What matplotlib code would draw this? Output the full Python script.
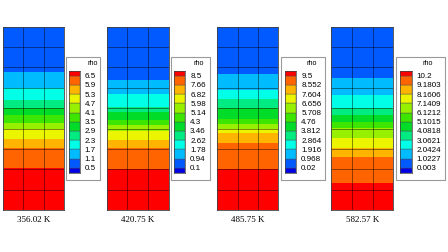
import matplotlib
matplotlib.use('Agg')
import matplotlib.pyplot as plt
from matplotlib.patches import Rectangle

W, H = 448, 252

# rho contour levels of each legend, bottom to top
levels_356 = [0.5, 1.1, 1.7, 2.3, 2.9, 3.5, 4.1, 4.7, 5.3, 5.9, 6.5]
levels_420 = [0.1, 0.94, 1.78, 2.62, 3.46, 4.3, 5.14, 5.98, 6.82, 7.66, 8.5]
levels_485 = [0.02, 0.968, 1.916, 2.864, 3.812, 4.76, 5.708, 6.656, 7.604, 8.552, 9.5]
levels_582 = [0.003, 1.0227, 2.0424, 3.0621, 4.0818, 5.1015, 6.1212, 7.1409, 8.1606, 9.1803, 10.2]

# height (cells from the bottom of the 9-cell column) where rho crosses
# the 2nd ... 11th level; rho grows towards the bottom
cross_356 = [6.79, 5.97, 5.40, 5.02, 4.66, 4.27, 3.98, 3.50, 3.06, 2.05]
cross_420 = [6.38, 5.68, 5.07, 4.80, 4.42, 4.17, 3.88, 3.44, 3.03, 2.01]
cross_485 = [6.66, 5.89, 5.45, 4.99, 4.45, 4.21, 3.98, 3.77, 3.27, 2.01]
cross_582 = [6.47, 5.65, 5.01, 4.66, 4.34, 4.01, 3.52, 3.02, 2.58, 1.35]

titles = ['356.02 K', '420.75 K', '485.75 K', '582.57 K']

# tecplot-like banded rainbow, low -> high
colors = ['#0000e6', '#005aff', '#00bcff', '#00ffe6', '#00eb82', '#00dc28',
          '#3ce600', '#96f000', '#ebf500', '#ffb400', '#ff6400', '#ff0000']

panels = [(levels_356, cross_356), (levels_420, cross_420),
          (levels_485, cross_485), (levels_582, cross_582)]

# pixel layout
col_x = [(2.5, 64), (106.6, 168.7), (217.4, 278.3), (331.3, 393.4)]
col_y = (26.7, 210)
frame_x = [(65.5, 100), (171, 209.7), (281.3, 325), (396, 445.3)]
frame_y = (57, 179.5)
box_x = [(69, 80), (174.3, 185.3), (285, 296.3), (400, 411.7)]
box_y = (71, 172.5)
rho_x = [93, 198.5, 311.5, 428]

fig = plt.figure(figsize=(W / 100, H / 100), dpi=100)


def px_axes(x0, y0, x1, y1, **kw):
    return fig.add_axes([x0 / W, 1 - y1 / H, (x1 - x0) / W, (y1 - y0) / H], **kw)


bg = fig.add_axes([0, 0, 1, 1], zorder=-1)
bg.set_xlim(0, W)
bg.set_ylim(H, 0)
bg.axis('off')

for i, (levels, cross) in enumerate(panels):
    # column of 3 x 9 cells
    ax = px_axes(col_x[i][0], col_y[0], col_x[i][1], col_y[1])
    tops = [9] + cross
    bots = cross + [0]
    for k, (t, b) in enumerate(zip(tops, bots)):
        ax.bar(0, t - b, bottom=b, width=3, align='edge', color=colors[k + 1], lw=0)
    for x in (1, 2):
        ax.axvline(x, color='k', lw=0.7, alpha=0.45)
    for y in range(1, 9):
        ax.axhline(y, color='k', lw=0.7, alpha=0.45)
    ax.set_xlim(0, 3)
    ax.set_ylim(0, 9)
    ax.set_xticks([])
    ax.set_yticks([])
    for s in ax.spines.values():
        s.set_color('#404040')
        s.set_linewidth(0.6)
    ax.text(0.5, -0.056, titles[i], transform=ax.transAxes, ha='center', va='center',
            family='Liberation Serif', fontsize=6.5)

    # legend frame
    fx0, fx1 = frame_x[i]
    bg.add_patch(Rectangle((fx0 + 1, frame_y[0] + 1), fx1 - fx0, frame_y[1] - frame_y[0],
                           fc='#c4c4c4', lw=0))
    bg.add_patch(Rectangle((fx0, frame_y[0]), fx1 - fx0, frame_y[1] - frame_y[0],
                           fc='white', ec='#9a9a9a', lw=0.8))
    bg.text(rho_x[i], 63.5, 'rho', ha='center', va='center',
            family='Liberation Sans', fontsize=5.2)

    # legend colour boxes
    lax = px_axes(box_x[i][0], box_y[0], box_x[i][1], box_y[1])
    for k in range(12):
        b = max(k - 1, -0.5)
        t = min(k, 10.5)
        lax.bar(0, t - b, bottom=b, width=1, align='edge', color=colors[k],
                edgecolor='#505050', lw=0.3)
    lax.set_xlim(0, 1)
    lax.set_ylim(-0.5, 10.5)
    lax.set_xticks([])
    lax.yaxis.tick_right()
    lax.set_yticks(range(11))
    lax.set_yticklabels([str(v) for v in levels], family='Liberation Sans')
    lax.tick_params(axis='y', length=0, pad=3.5, labelsize=5.8)
    for s in lax.spines.values():
        s.set_color('#404040')
        s.set_linewidth(0.5)

fig.savefig('out.png', dpi=100)
